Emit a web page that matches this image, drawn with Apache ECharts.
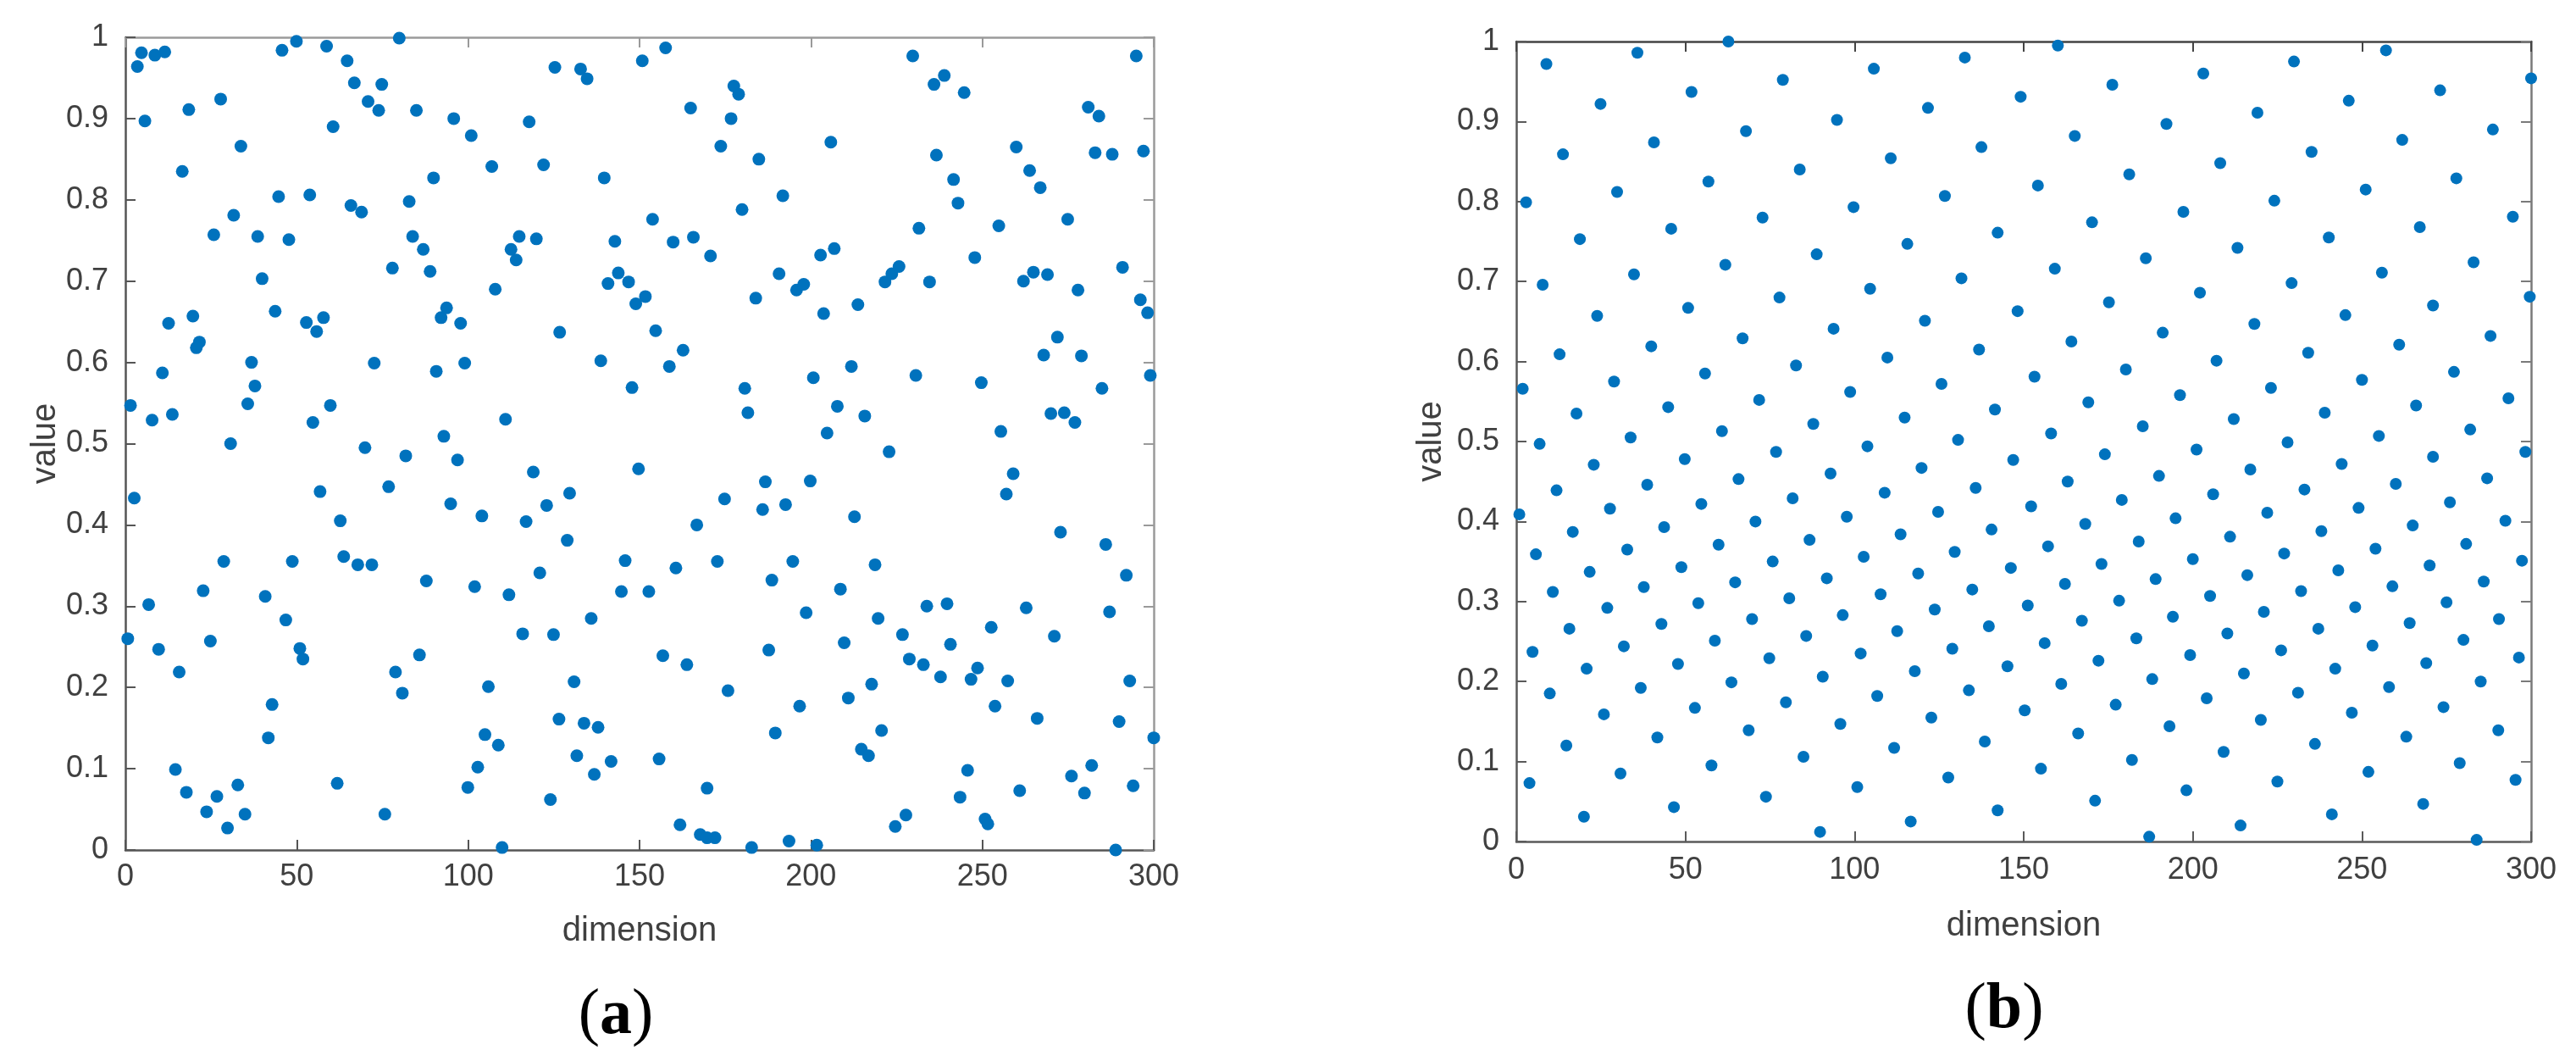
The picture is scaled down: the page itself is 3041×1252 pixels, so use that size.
<!DOCTYPE html>
<html>
<head>
<meta charset="utf-8">
<script src="https://cdn.jsdelivr.net/npm/echarts@6/dist/echarts.min.js"></script>
<style>
  html, body { margin: 0; padding: 0; background: #fff; }
  #chart { width: 3041px; height: 1252px; }
</style>
</head>
<body>
<div id="chart"></div>
<script>
// axis ticks
const dimTicks = [0, 50, 100, 150, 200, 250, 300]
const valueTicks = [0, 0.1, 0.2, 0.3, 0.4, 0.5, 0.6, 0.7, 0.8, 0.9, 1]

// (a) random points: dimension / value pairs
const dimsA = [
  3.5, 4.7, 8.6, 11.5, 5.7, 18.5, 27.8, 16.6, 33.7, 45.7, 49.9, 58.7, 79.9, 64.7, 66.8, 74.8, 70.8, 73.9, 60.6, 84.9,
  95.8, 100.9, 117.8, 125.3, 106.9, 122.0, 89.9, 44.7, 53.8, 65.8, 68.9, 82.8, 31.6, 25.8, 38.6, 47.7, 83.8, 86.9, 77.9, 88.9,
  114.9, 112.5, 114.0, 119.9, 39.9, 107.9, 43.7, 19.7, 12.6, 21.6, 20.7, 52.8, 57.8, 55.8, 92.1, 93.7, 97.8, 126.7, 36.8, 72.6,
  90.7, 99.0, 10.8, 37.8, 35.7, 1.5, 59.8, 7.8, 13.7, 54.7, 110.9, 30.7, 92.9, 69.9, 81.8, 96.9,
  119.0, 2.6, 56.8, 76.8, 94.9, 122.9, 62.7, 104.0, 116.9, 28.7, 48.7, 63.7, 67.8, 71.9, 87.8, 120.9, 22.7, 6.8, 40.8, 101.9,
  111.9, 46.8, 0.7, 9.7, 24.8, 50.9, 51.8, 115.9, 124.9, 85.8, 15.7, 78.8, 80.8, 105.9, 42.8, 126.5, 41.7, 104.9, 108.8, 14.6,
  102.8, 17.8, 32.8, 26.7, 61.8, 99.9, 124.0, 23.7, 34.9, 75.7, 29.8, 109.9,
  132.8, 134.7, 150.8, 157.6, 177.5, 178.9, 164.9, 176.7, 173.7, 205.8, 184.8, 229.7, 235.9, 238.9, 244.7, 236.6, 241.6, 242.9, 231.5, 254.8,
  247.8, 139.7, 191.8, 179.9, 153.8, 142.8, 159.8, 165.7, 170.7, 202.8, 206.8, 190.7, 140.8, 143.8, 146.8, 151.7, 148.9, 183.9, 195.8, 197.9,
  221.6, 223.6, 225.7, 234.6, 213.7, 203.7, 154.7, 162.7, 138.7, 158.7, 147.8, 180.7, 200.7, 211.8, 230.6, 249.7, 181.6, 207.7, 215.7, 204.7,
  255.4, 222.8,
  149.7, 129.6, 186.7, 199.8, 174.8, 185.9, 192.6, 166.7, 128.9, 212.7, 257.0, 145.8, 160.6, 172.7, 194.7, 188.6, 144.7, 152.7, 218.7, 208.6,
  135.9, 198.6, 219.6, 233.8, 239.7, 252.6, 226.7, 209.7, 240.7, 187.7, 156.8, 163.8, 228.7, 232.8, 237.8, 248.6, 246.7, 257.4, 130.9, 175.8,
  217.7, 210.9, 196.7, 253.7, 133.8, 137.9, 189.6, 220.6, 131.7, 141.7, 155.7, 136.8, 214.7, 216.8, 245.7, 169.7, 243.5, 227.7, 224.6, 250.8,
  251.6, 161.8, 167.7, 169.7, 172.0, 182.7, 193.6, 201.7,
  294.9, 280.9, 284.0, 259.9, 282.9, 287.9, 297.0, 263.8, 266.9, 274.9, 290.9, 262.0, 264.9, 269.0, 277.9, 296.1, 298.2, 271.9, 267.9, 278.9,
  299.0, 284.9, 270.0, 273.9, 277.0, 259.0, 272.8, 286.0, 292.0, 262.8, 287.1, 271.0, 293.0, 266.0, 289.9, 300.0, 281.9, 276.0, 279.8, 294.0,
  260.9, 288.9
]
const valuesA = [
  0.964, 0.981, 0.978, 0.982, 0.897, 0.911, 0.924, 0.835, 0.866, 0.984, 0.995, 0.989, 0.999, 0.971, 0.944, 0.942, 0.921, 0.910, 0.890, 0.910,
  0.900, 0.879, 0.896, 0.963, 0.841, 0.843, 0.827, 0.804, 0.806, 0.793, 0.785, 0.798, 0.781, 0.757, 0.755, 0.751, 0.755, 0.739, 0.716, 0.712,
  0.755, 0.739, 0.726, 0.752, 0.703, 0.690, 0.663, 0.657, 0.648, 0.625, 0.618, 0.649, 0.655, 0.638, 0.655, 0.667, 0.648, 0.637, 0.600, 0.599,
  0.589, 0.599, 0.587, 0.571, 0.549, 0.547, 0.547, 0.529, 0.536, 0.526, 0.530, 0.500, 0.509, 0.495, 0.485, 0.480,
  0.465, 0.433, 0.441, 0.447, 0.426, 0.424, 0.405, 0.411, 0.404, 0.355, 0.355, 0.361, 0.351, 0.351, 0.331, 0.341, 0.319, 0.302, 0.312, 0.324,
  0.314, 0.283, 0.260, 0.247, 0.257, 0.248, 0.235, 0.266, 0.265, 0.240, 0.219, 0.219, 0.193, 0.201, 0.179, 0.161, 0.138, 0.142, 0.129, 0.099,
  0.102, 0.071, 0.080, 0.066, 0.082, 0.077, 0.062, 0.047, 0.044, 0.044, 0.027, 0.003,
  0.961, 0.949, 0.971, 0.987, 0.940, 0.930, 0.913, 0.900, 0.866, 0.871, 0.850, 0.977, 0.942, 0.953, 0.932, 0.855, 0.825, 0.796, 0.765, 0.768,
  0.729, 0.827, 0.805, 0.788, 0.776, 0.749, 0.748, 0.754, 0.731, 0.732, 0.740, 0.709, 0.697, 0.710, 0.699, 0.681, 0.672, 0.679, 0.689, 0.696,
  0.699, 0.709, 0.718, 0.699, 0.671, 0.660, 0.639, 0.615, 0.602, 0.595, 0.569, 0.568, 0.581, 0.595, 0.584, 0.575, 0.538, 0.546, 0.534, 0.513,
  0.515, 0.490,
  0.469, 0.439, 0.453, 0.454, 0.432, 0.419, 0.425, 0.400, 0.381, 0.410, 0.438, 0.356, 0.347, 0.355, 0.355, 0.332, 0.318, 0.318, 0.351, 0.321,
  0.285, 0.292, 0.285, 0.300, 0.303, 0.274, 0.265, 0.255, 0.253, 0.246, 0.239, 0.228, 0.235, 0.228, 0.213, 0.224, 0.210, 0.208, 0.207, 0.196,
  0.204, 0.187, 0.177, 0.177, 0.156, 0.151, 0.144, 0.147, 0.116, 0.109, 0.112, 0.093, 0.124, 0.116, 0.098, 0.076, 0.065, 0.043, 0.029, 0.038,
  0.032, 0.031, 0.019, 0.015, 0.015, 0.003, 0.011, 0.006,
  0.977, 0.914, 0.903, 0.865, 0.858, 0.856, 0.860, 0.836, 0.815, 0.776, 0.717, 0.700, 0.711, 0.708, 0.689, 0.677, 0.661, 0.631, 0.609, 0.608,
  0.584, 0.568, 0.537, 0.538, 0.526, 0.463, 0.391, 0.376, 0.338, 0.298, 0.293, 0.263, 0.208, 0.162, 0.158, 0.138, 0.104, 0.091, 0.070, 0.079,
  0.073, 0.000
]

// (b) good point set
const dimsB = [
  8.9, 35.8, 62.7, 51.8, 78.8, 105.7, 132.6, 24.9, 67.9, 94.8, 121.7, 13.8, 40.7, 83.8, 110.7, 137.5, 2.9, 29.8, 56.8, 99.7,
  126.7, 18.8, 45.8, 72.8, 115.6, 142.3, 7.8, 34.8, 61.8, 88.8, 104.6, 131.6, 23.9, 50.8, 77.8, 93.8, 120.8, 12.8, 39.9, 66.9,
  109.7, 136.8, 1.9, 28.9, 55.8, 82.7, 98.7, 125.7, 17.8, 44.9, 71.8, 87.8, 114.8, 141.5, 6.9, 33.8, 60.8, 103.8, 130.6, 76.8,
  49.8, 22.9, 65.7, 92.9, 119.8, 11.9, 38.7, 108.9, 135.8, 54.7, 81.7, 0.9, 27.7, 97.7, 124.7, 16.7, 43.7, 70.7, 113.6, 140.5,
  59.8, 86.7, 5.8, 32.8, 102.7, 129.6, 21.7, 48.8, 75.8, 118.8, 64.7, 91.8, 10.8, 37.7, 107.7, 134.8, 53.8, 80.7, 26.9, 123.7,
  96.5, 139.7, 15.7, 42.9, 69.7, 85.7, 112.6, 4.8, 31.8, 58.7, 128.9, 101.8, 74.8, 47.8, 20.8, 117.8, 90.6, 63.6, 36.8, 9.9,
  133.8, 106.7, 79.7, 52.8, 25.9, 122.7, 95.8, 68.7, 41.7, 14.8, 138.5, 111.7, 84.9, 57.7, 30.8, 3.9, 127.7, 100.8, 73.8, 46.6,
  20.0, 142.3, 116.6, 89.8,
  160.1, 257.1, 229.9, 203.1, 176.2, 149.1, 273.1, 246.1, 219.1, 192.2, 165.1, 288.7, 261.9, 235.1, 208.1, 181.2, 154.2, 277.9, 251.1, 224.1,
  197.2, 170.2, 267.1, 240.2, 213.2, 186.1, 159.2, 283.0, 255.9, 229.2, 202.1, 175.2, 148.2, 271.0, 245.1, 218.2, 191.1, 164.1, 288.0, 261.0,
  234.1, 207.0, 180.2, 153.2, 277.2, 250.0, 223.1, 196.2, 169.1, 266.0, 239.0, 212.1, 185.2, 158.1, 282.0, 255.0, 228.0, 201.1, 174.0, 146.9,
  271.0,
  287.0, 244.0, 217.0, 190.0, 163.0, 260.0, 233.0, 206.0, 179.0, 152.2, 276.0, 249.0, 222.0, 194.9, 168.2, 265.0, 238.0, 211.0, 184.0, 157.2,
  280.8, 254.0, 227.0, 200.0, 173.0, 146.2, 270.0, 243.0, 216.1, 189.0, 162.2, 286.0, 259.0, 232.0, 205.1, 178.2, 151.2, 275.0, 248.0, 221.0,
  194.1, 167.2, 290.5, 264.1, 237.1, 210.2, 183.3, 156.2, 280.0, 253.1, 226.1, 199.2, 172.1, 145.2, 269.0, 242.1, 215.1, 188.0, 161.1, 285.1,
  258.0, 231.1, 204.1, 177.2, 150.3, 274.1, 247.0, 220.1, 193.1, 166.1, 290.3, 263.1, 236.1, 209.1, 182.0, 155.1, 278.9, 251.9, 225.0, 198.1,
  171.1, 268.1, 241.1, 214.1, 187.1, 283.9,
  300.0, 294.6, 299.6, 293.3, 298.3, 292.4, 297.3, 296.4, 295.4
]
const valuesB = [
  0.972, 0.986, 1.000, 0.937, 0.952, 0.966, 0.980, 0.922, 0.888, 0.902, 0.917, 0.859, 0.874, 0.840, 0.854, 0.868, 0.799, 0.812, 0.825, 0.793,
  0.807, 0.753, 0.766, 0.780, 0.747, 0.761, 0.696, 0.709, 0.721, 0.734, 0.691, 0.704, 0.657, 0.667, 0.680, 0.641, 0.651, 0.609, 0.619, 0.629,
  0.605, 0.615, 0.566, 0.575, 0.585, 0.595, 0.562, 0.572, 0.535, 0.543, 0.552, 0.522, 0.530, 0.540, 0.497, 0.505, 0.513, 0.494, 0.502, 0.487,
  0.478, 0.471, 0.453, 0.460, 0.467, 0.439, 0.446, 0.436, 0.442, 0.422, 0.429, 0.409, 0.416, 0.406, 0.412, 0.387, 0.393, 0.400, 0.384, 0.390,
  0.371, 0.377, 0.359, 0.365, 0.356, 0.362, 0.337, 0.343, 0.350, 0.335, 0.324, 0.329, 0.312, 0.318, 0.309, 0.315, 0.298, 0.304, 0.292, 0.290,
  0.283, 0.269, 0.266, 0.272, 0.278, 0.257, 0.263, 0.237, 0.244, 0.251, 0.241, 0.235, 0.229, 0.222, 0.216, 0.213, 0.206, 0.199, 0.192, 0.185,
  0.189, 0.182, 0.174, 0.167, 0.159, 0.155, 0.147, 0.139, 0.130, 0.120, 0.125, 0.117, 0.106, 0.095, 0.085, 0.073, 0.080, 0.068, 0.056, 0.043,
  0.031, 0.039, 0.025, 0.012,
  0.995, 0.989, 0.975, 0.960, 0.946, 0.931, 0.939, 0.926, 0.911, 0.897, 0.882, 0.890, 0.877, 0.862, 0.848, 0.834, 0.820, 0.829, 0.815, 0.801,
  0.787, 0.774, 0.768, 0.755, 0.742, 0.729, 0.716, 0.724, 0.711, 0.698, 0.686, 0.674, 0.663, 0.670, 0.658, 0.647, 0.636, 0.625, 0.632, 0.621,
  0.611, 0.601, 0.590, 0.581, 0.587, 0.577, 0.567, 0.558, 0.549, 0.545, 0.536, 0.528, 0.519, 0.510, 0.515, 0.507, 0.499, 0.490, 0.484, 0.477,
  0.481,
  0.454, 0.472, 0.465, 0.457, 0.450, 0.447, 0.440, 0.434, 0.427, 0.419, 0.424, 0.417, 0.411, 0.404, 0.397, 0.395, 0.388, 0.381, 0.375, 0.369,
  0.372, 0.366, 0.360, 0.353, 0.347, 0.342, 0.345, 0.339, 0.333, 0.328, 0.322, 0.325, 0.319, 0.313, 0.307, 0.301, 0.295, 0.299, 0.293, 0.287,
  0.281, 0.276, 0.278, 0.273, 0.266, 0.260, 0.254, 0.248, 0.252, 0.245, 0.239, 0.233, 0.226, 0.219, 0.223, 0.216, 0.210, 0.203, 0.197, 0.200,
  0.193, 0.186, 0.179, 0.171, 0.164, 0.168, 0.161, 0.152, 0.144, 0.135, 0.139, 0.131, 0.122, 0.112, 0.102, 0.091, 0.098, 0.087, 0.075, 0.064,
  0.051, 0.047, 0.034, 0.020, 0.006, 0.002,
  0.954, 0.781, 0.681, 0.554, 0.487, 0.401, 0.351, 0.230, 0.077
]

const dotColor = '#0072BD'
const tickFont = { fontFamily: 'Liberation Sans', fontSize: 36, color: '#404040' }
const nameFont = { fontFamily: 'Liberation Sans', fontSize: 40, color: '#404040' }

const fmt = v => String(+v.toFixed(1))

const makeX = (grid, position, lineColor, labelMargin, nameGap) => ({
  type: 'value',
  gridIndex: grid,
  position: position,
  min: dimTicks[0],
  max: dimTicks[dimTicks.length - 1],
  interval: dimTicks[1] - dimTicks[0],
  splitLine: { show: false },
  axisLine: { show: true, onZero: false, lineStyle: { color: lineColor, width: 2.5 } },
  axisTick: { show: true, inside: true, length: 12, lineStyle: { color: lineColor, width: 2 } },
  axisLabel: position === 'bottom' ? { ...tickFont, margin: labelMargin, formatter: fmt } : { show: false },
  name: position === 'bottom' ? 'dimension' : '',
  nameLocation: 'middle',
  nameGap: nameGap,
  nameTextStyle: nameFont
})

const makeY = (grid, position, lineColor, labelMargin, nameGap) => ({
  type: 'value',
  gridIndex: grid,
  position: position,
  min: valueTicks[0],
  max: valueTicks[valueTicks.length - 1],
  interval: 0.1,
  splitLine: { show: false },
  axisLine: { show: true, onZero: false, lineStyle: { color: lineColor, width: 2.5 } },
  axisTick: { show: true, inside: true, length: 12, lineStyle: { color: lineColor, width: 2 } },
  axisLabel: position === 'left' ? { ...tickFont, margin: labelMargin, formatter: fmt } : { show: false },
  name: position === 'left' ? 'value' : '',
  nameLocation: 'middle',
  nameGap: nameGap,
  nameRotate: 90,
  nameTextStyle: nameFont
})

const chart = echarts.init(document.getElementById('chart'), null, { renderer: 'canvas' })

chart.setOption({
  backgroundColor: '#ffffff',
  animation: false,
  grid: [
    { left: 148, top: 44, width: 1214, height: 959 },
    { left: 1790, top: 49, width: 1198, height: 944 }
  ],
  xAxis: [
    makeX(0, 'bottom', '#555555', 14, 76),
    makeX(0, 'top', '#9a9a9a', 0, 0),
    makeX(1, 'bottom', '#5a5a5a', 16, 80),
    makeX(1, 'top', '#444444', 0, 0)
  ],
  yAxis: [
    makeY(0, 'left', '#555555', 20, 72),
    makeY(0, 'right', '#9a9a9a', 0, 0),
    makeY(1, 'left', '#5a5a5a', 20, 80),
    makeY(1, 'right', '#7a7a7a', 0, 0)
  ],
  series: [
    {
      type: 'scatter',
      xAxisIndex: 0,
      yAxisIndex: 0,
      symbolSize: 15,
      clip: false,
      itemStyle: { color: dotColor, opacity: 1 },
      data: dimsA.map((d, i) => [d, valuesA[i]])
    },
    {
      type: 'scatter',
      xAxisIndex: 2,
      yAxisIndex: 2,
      symbolSize: 14,
      clip: false,
      itemStyle: { color: dotColor, opacity: 1 },
      data: dimsB.map((d, i) => [d, valuesB[i]])
    }
  ],
  graphic: [
    {
      type: 'text',
      x: 727,
      y: 1199,
      style: {
        text: '({b|a})',
        align: 'center',
        verticalAlign: 'middle',
        font: '76px "Liberation Serif"',
        fill: '#000',
        rich: { b: { font: 'bold 76px "Liberation Serif"', fill: '#000' } }
      }
    },
    {
      type: 'text',
      x: 2366,
      y: 1192,
      style: {
        text: '({b|b})',
        align: 'center',
        verticalAlign: 'middle',
        font: '76px "Liberation Serif"',
        fill: '#000',
        rich: { b: { font: 'bold 76px "Liberation Serif"', fill: '#000' } }
      }
    }
  ]
})

window.addEventListener('resize', () => {
  chart.resize()
})
</script>
</body>
</html>
